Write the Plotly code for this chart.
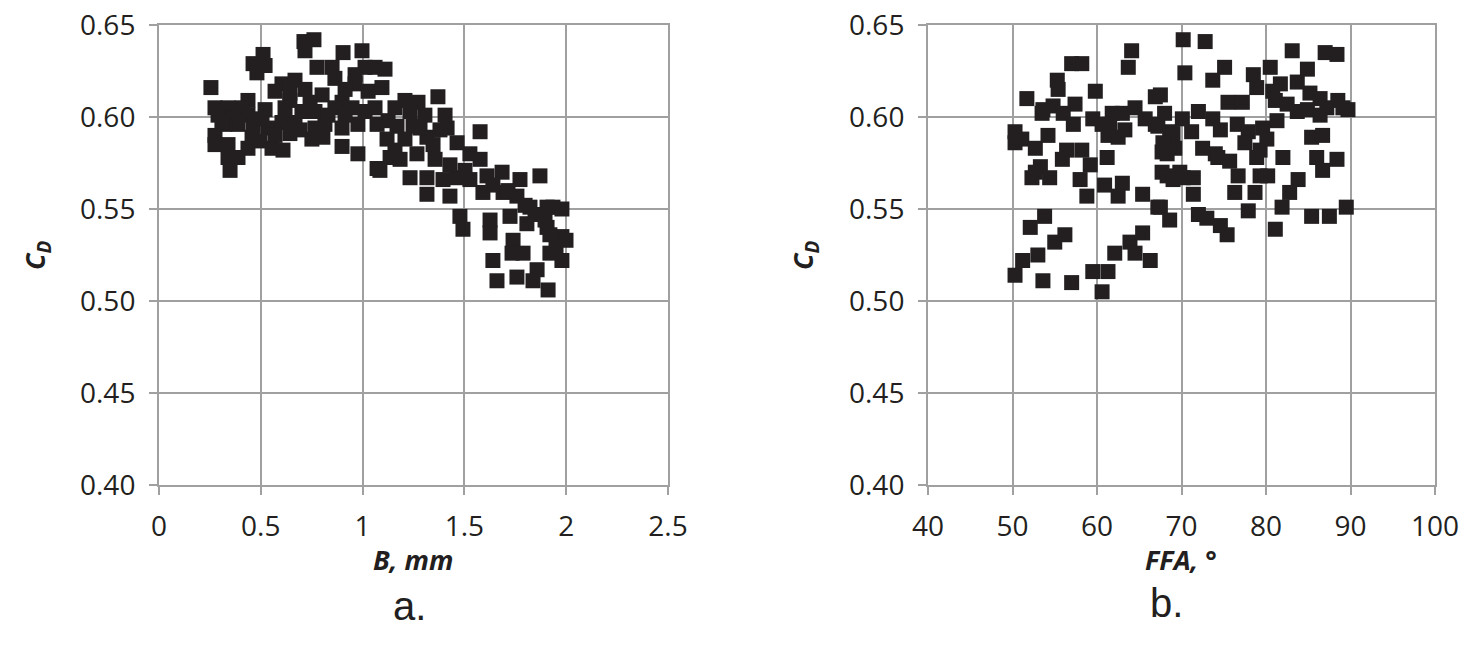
import plotly.graph_objects as go

# ---- data (a): drag coefficient vs B, mm ----
b_mm = [0.255, 0.712, 0.761, 0.717, 0.904, 0.997, 0.511, 0.462, 0.521, 0.481,
        1.061, 1.012, 0.963, 0.963, 0.776, 0.850, 0.864, 0.604, 0.668, 0.570,
        0.717, 0.801, 0.899, 0.437, 0.275, 0.339, 0.408, 0.290, 0.373, 0.437,
        0.388, 0.462, 0.535, 0.275, 0.275, 0.339, 0.339, 0.388, 0.349, 0.437,
        0.457, 0.555, 0.609, 0.751, 0.805, 0.899, 0.977, 1.071, 0.619, 0.702,
        0.766, 0.864, 0.948, 0.604, 0.668, 0.815, 0.899, 0.977, 1.027, 1.061,
        1.071, 0.643, 0.742, 0.830, 0.914, 0.521, 0.693, 0.766, 0.506, 0.570,
        0.643, 0.496, 0.324, 0.309, 1.012, 0.914, 0.643,
        1.110, 1.095, 1.208, 1.272, 1.370, 1.405, 1.415, 1.577, 1.125, 1.169,
        1.120, 1.248, 1.316, 1.346, 1.135, 1.184, 1.267, 1.464, 1.527, 1.577,
        1.085, 1.233, 1.316, 1.395, 1.464, 1.316, 1.429, 1.527, 1.611, 1.685,
        1.591, 1.690, 1.773, 1.871, 1.758, 1.822, 1.906, 1.935, 1.478, 1.493,
        1.626, 1.626, 1.724, 1.739, 1.734, 1.807, 1.906, 1.979, 1.640, 1.788,
        1.857, 1.660, 1.758, 1.837, 1.911, 1.979, 1.920,
        1.159, 1.233, 1.306, 1.208, 1.282, 1.380, 1.159, 1.356, 1.429, 1.503,
        1.640, 1.714, 1.798, 1.847, 1.896, 1.920, 1.950, 1.979, 1.999]
cd_a = [0.616, 0.641, 0.642, 0.636, 0.635, 0.636, 0.634, 0.629, 0.628, 0.624,
        0.627, 0.627, 0.623, 0.618, 0.627, 0.627, 0.621, 0.618, 0.620, 0.614,
        0.615, 0.612, 0.608, 0.609, 0.605, 0.605, 0.605, 0.601, 0.600, 0.601,
        0.596, 0.595, 0.594, 0.590, 0.585, 0.585, 0.578, 0.578, 0.571, 0.583,
        0.589, 0.583, 0.582, 0.588, 0.589, 0.584, 0.580, 0.572, 0.605, 0.603,
        0.603, 0.605, 0.605, 0.597, 0.597, 0.596, 0.594, 0.596, 0.614, 0.605,
        0.596, 0.609, 0.608, 0.601, 0.601, 0.604, 0.593, 0.594, 0.599, 0.590,
        0.591, 0.587, 0.596, 0.597, 0.603, 0.615, 0.613,
        0.626, 0.616, 0.609, 0.608, 0.611, 0.601, 0.594, 0.592, 0.598, 0.595,
        0.588, 0.595, 0.589, 0.585, 0.578, 0.577, 0.580, 0.586, 0.580, 0.577,
        0.571, 0.567, 0.567, 0.566, 0.567, 0.558, 0.557, 0.566, 0.568, 0.570,
        0.559, 0.559, 0.566, 0.568, 0.557, 0.551, 0.551, 0.551, 0.546, 0.539,
        0.544, 0.537, 0.546, 0.533, 0.526, 0.542, 0.540, 0.535, 0.522, 0.526,
        0.517, 0.511, 0.513, 0.511, 0.506, 0.522, 0.526,
        0.605, 0.603, 0.601, 0.588, 0.594, 0.593, 0.582, 0.577, 0.574, 0.571,
        0.563, 0.560, 0.552, 0.547, 0.544, 0.536, 0.530, 0.550, 0.533]

# ---- data (b): drag coefficient vs FFA, degrees ----
ffa = [64.1, 63.7, 57.0, 58.2, 55.3, 55.4, 51.7, 59.8, 66.9, 53.5,
       54.8, 57.4, 56.0, 57.2, 59.5, 60.6, 61.8, 63.0, 64.5, 65.7,
       66.9, 50.3, 50.3, 51.1, 52.7, 54.2, 61.3, 62.5, 56.4, 58.2,
       55.9, 59.2, 61.2, 53.3, 52.7, 54.4, 52.3, 58.0, 58.8, 60.9,
       63.0, 62.5, 65.4, 67.2, 67.7, 67.7, 53.8, 52.1, 55.0, 56.2,
       53.0, 51.2, 50.3, 53.6, 57.0, 59.5, 61.3, 60.6, 62.1, 63.9,
       65.4, 66.3, 64.5,
       70.2, 72.8, 83.1, 87.0, 88.4, 70.4, 75.1, 73.7, 78.5, 78.9,
       80.5, 81.7, 80.8, 81.1, 83.7, 84.9, 85.2, 86.4, 87.2, 75.5,
       77.2, 82.5, 83.7, 84.9, 86.4, 81.3, 72.0, 70.1, 71.2, 73.7,
       74.6, 68.0, 68.6, 76.6, 77.9, 79.6, 85.4, 86.7, 72.5, 74.0,
       74.3, 77.5, 79.3, 80.1, 78.9, 68.3, 69.2, 82.0, 86.0, 86.7,
       75.7, 76.7, 76.3, 79.3, 80.2, 83.8, 82.8, 81.9, 71.4, 78.7,
       68.3, 69.0, 70.2, 71.4, 67.5, 68.6, 77.9, 72.0, 73.0, 74.6,
       75.4, 85.4, 87.5, 81.1, 89.1, 89.7, 88.5, 88.4, 89.5, 69.0,
       69.8, 53.6, 67.8, 67.2, 61.5, 63.3, 67.5]
cd_b = [0.636, 0.627, 0.629, 0.629, 0.620, 0.615, 0.610, 0.614, 0.611, 0.602,
        0.606, 0.607, 0.602, 0.596, 0.599, 0.596, 0.602, 0.602, 0.605, 0.599,
        0.596, 0.592, 0.586, 0.588, 0.583, 0.590, 0.590, 0.589, 0.582, 0.582,
        0.577, 0.574, 0.578, 0.573, 0.570, 0.567, 0.567, 0.566, 0.557, 0.563,
        0.564, 0.557, 0.558, 0.551, 0.581, 0.570, 0.546, 0.540, 0.532, 0.536,
        0.525, 0.522, 0.514, 0.511, 0.510, 0.516, 0.516, 0.505, 0.526, 0.532,
        0.537, 0.522, 0.526,
        0.642, 0.641, 0.636, 0.635, 0.634, 0.624, 0.627, 0.620, 0.623, 0.616,
        0.627, 0.618, 0.614, 0.609, 0.619, 0.626, 0.613, 0.610, 0.605, 0.608,
        0.608, 0.607, 0.603, 0.604, 0.601, 0.598, 0.603, 0.599, 0.592, 0.599,
        0.593, 0.602, 0.592, 0.596, 0.592, 0.594, 0.589, 0.590, 0.583, 0.580,
        0.578, 0.586, 0.582, 0.588, 0.578, 0.580, 0.583, 0.578, 0.578, 0.571,
        0.576, 0.568, 0.559, 0.568, 0.568, 0.566, 0.559, 0.551, 0.558, 0.559,
        0.568, 0.566, 0.567, 0.567, 0.551, 0.544, 0.549, 0.547, 0.545, 0.541,
        0.536, 0.546, 0.546, 0.539, 0.605, 0.604, 0.609, 0.577, 0.551, 0.591,
        0.570, 0.604, 0.586, 0.595, 0.596, 0.593, 0.612]

y_ticks = [0.40, 0.45, 0.50, 0.55, 0.60, 0.65]
xa_ticks = [0, 0.5, 1, 1.5, 2, 2.5]
xb_ticks = [40, 50, 60, 70, 80, 90, 100]

INK = "#231f20"
GRID = "#a0a0a0"
FONT = "Open Sans"
W, H = 1470, 645

def px_x(p):
    return p / W

def px_y(p):
    return (H - p) / H

fig = go.Figure()
marker = dict(symbol="square", size=15, color=INK, line=dict(width=0))
fig.add_trace(go.Scatter(x=b_mm, y=cd_a, mode="markers", marker=marker,
                         xaxis="x", yaxis="y", showlegend=False))
fig.add_trace(go.Scatter(x=ffa, y=cd_b, mode="markers", marker=marker,
                         xaxis="x2", yaxis="y2", showlegend=False))

common_axis = dict(showgrid=True, gridcolor=GRID, gridwidth=2,
                   showline=True, linecolor=GRID, linewidth=2, mirror=True,
                   ticks="outside", ticklen=8, tickwidth=2, tickcolor=GRID,
                   tickfont=dict(family=FONT, size=28, color=INK),
                   zeroline=False, fixedrange=True, automargin=False)

ydom = [px_y(485), px_y(25)]
fig.update_layout(
    width=W, height=H,
    margin=dict(l=0, r=0, t=0, b=0, pad=0, autoexpand=False),
    paper_bgcolor="white", plot_bgcolor="white",
    xaxis=dict(domain=[px_x(159), px_x(668)], range=[0, 2.5],
               tickvals=xa_ticks, ticktext=["0", "0.5", "1", "1.5", "2", "2.5"],
               anchor="y", ticklabelstandoff=7, **common_axis),
    yaxis=dict(domain=ydom, range=[0.40, 0.65], tickvals=y_ticks,
               tickformat=".2f", anchor="x", ticklabelstandoff=8, **common_axis),
    xaxis2=dict(domain=[px_x(928), px_x(1435)], range=[40, 100],
                tickvals=xb_ticks, anchor="y2", ticklabelstandoff=7, **common_axis),
    yaxis2=dict(domain=ydom, range=[0.40, 0.65], tickvals=y_ticks,
                tickformat=".2f", anchor="x2", ticklabelstandoff=8, **common_axis),
)

title_font = dict(family=FONT, size=27, color=INK)
label_font = dict(family="Liberation Sans Narrow, Liberation Sans, Arial", size=40, color=INK)
ann = [
    dict(text="<b><i>B, mm</i></b>", x=px_x(413), y=px_y(559)),
    dict(text="<b><i>FFA, °</i></b>", x=px_x(1181), y=px_y(559)),
    dict(text="a.", x=px_x(410), y=px_y(606), font=label_font),
    dict(text="b.", x=px_x(1166), y=px_y(603), font=label_font),
    dict(text="<b><i>C<sub>D</sub></i></b>", x=px_x(36), y=px_y(255), textangle=-90),
    dict(text="<b><i>C<sub>D</sub></i></b>", x=px_x(804), y=px_y(255), textangle=-90),
]
for a in ann:
    a.setdefault("font", title_font)
    fig.add_annotation(xref="paper", yref="paper", showarrow=False,
                       xanchor="center", yanchor="middle", **a)

fig.write_html("out.html")
